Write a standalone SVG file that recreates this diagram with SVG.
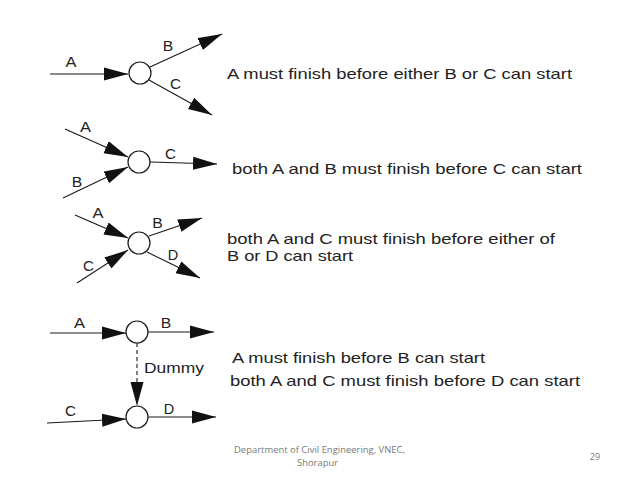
<svg xmlns="http://www.w3.org/2000/svg" width="638" height="478" viewBox="0 0 638 478">
<style>
.ln{stroke:#1a1a1a;stroke-width:1.1;fill:none;marker-end:url(#ah)}
.dash{stroke-dasharray:4 3}
.nd{fill:#fff;stroke:#1a1a1a;stroke-width:1.2}
.lb{font-family:"Liberation Sans",Arial,sans-serif;font-size:14px;fill:#222;text-anchor:middle}
.tx{font-family:"Liberation Sans",Arial,sans-serif;font-size:14.5px;fill:#222}
.ft{font-family:"Open Sans","Liberation Sans",sans-serif;font-size:9px;fill:#7a7a7a;text-anchor:middle}
</style>
<defs>
<marker id="ah" markerUnits="userSpaceOnUse" markerWidth="25" markerHeight="14" refX="24" refY="7" orient="auto">
<path d="M0,0.5 L24,7 L0,13.5 z" fill="#111"/>
</marker>
</defs>
<rect width="638" height="478" fill="#fff"/>
<g id="connectors">
<line class="ln" x1="50" y1="74" x2="128" y2="74"/>
<line class="ln" x1="150" y1="67" x2="222" y2="34"/>
<line class="ln" x1="149" y1="80" x2="212" y2="115"/>
<line class="ln" x1="65" y1="129" x2="128" y2="157"/>
<line class="ln" x1="63" y1="198" x2="128" y2="167"/>
<line class="ln" x1="150" y1="162" x2="217" y2="164"/>
<line class="ln" x1="75" y1="215" x2="128" y2="238"/>
<line class="ln" x1="77" y1="283" x2="128" y2="250"/>
<line class="ln" x1="149" y1="236" x2="202" y2="218"/>
<line class="ln" x1="147" y1="252" x2="200" y2="278"/>
<line class="ln" x1="50" y1="333" x2="126" y2="333"/>
<line class="ln" x1="148" y1="332" x2="214" y2="332"/>
<line class="ln dash" x1="137" y1="343" x2="137" y2="406"/>
<line class="ln" x1="47" y1="423" x2="126" y2="419"/>
<line class="ln" x1="148" y1="417" x2="216" y2="417"/>
</g>
<g id="node1"><circle class="nd" cx="140" cy="73" r="11"/></g>
<g id="node2"><circle class="nd" cx="139" cy="162" r="11"/></g>
<g id="node3"><circle class="nd" cx="139" cy="243" r="11"/></g>
<g id="node4"><circle class="nd" cx="137" cy="332" r="11"/></g>
<g id="node5"><circle class="nd" cx="137" cy="417" r="11"/></g>
<g id="labels">
<text class="lb" x="71" y="67" textLength="11" lengthAdjust="spacingAndGlyphs">A</text>
<text class="lb" x="168" y="51" textLength="10.5" lengthAdjust="spacingAndGlyphs">B</text>
<text class="lb" x="175.5" y="89" textLength="11" lengthAdjust="spacingAndGlyphs">C</text>
<text class="lb" x="85.5" y="132" textLength="11" lengthAdjust="spacingAndGlyphs">A</text>
<text class="lb" x="77" y="187" textLength="10.5" lengthAdjust="spacingAndGlyphs">B</text>
<text class="lb" x="170.5" y="159" textLength="11" lengthAdjust="spacingAndGlyphs">C</text>
<text class="lb" x="98" y="218" textLength="11" lengthAdjust="spacingAndGlyphs">A</text>
<text class="lb" x="157.5" y="228" textLength="10.5" lengthAdjust="spacingAndGlyphs">B</text>
<text class="lb" x="88.5" y="271" textLength="11" lengthAdjust="spacingAndGlyphs">C</text>
<text class="lb" x="173" y="260" textLength="10.5" lengthAdjust="spacingAndGlyphs">D</text>
<text class="lb" x="79.5" y="328" textLength="11" lengthAdjust="spacingAndGlyphs">A</text>
<text class="lb" x="166" y="328" textLength="10.5" lengthAdjust="spacingAndGlyphs">B</text>
<text class="lb" x="70.5" y="416" textLength="11" lengthAdjust="spacingAndGlyphs">C</text>
<text class="lb" x="169" y="414" textLength="10.5" lengthAdjust="spacingAndGlyphs">D</text>
<text class="tx" x="144" y="373" textLength="60" lengthAdjust="spacingAndGlyphs">Dummy</text>
</g>
<g id="descriptions">
<text class="tx" x="227" y="79" textLength="345" lengthAdjust="spacingAndGlyphs">A must finish before either B or C can start</text>
<text class="tx" x="232" y="174" textLength="350" lengthAdjust="spacingAndGlyphs">both A and B must finish before C can start</text>
<text class="tx" x="227" y="244" textLength="328" lengthAdjust="spacingAndGlyphs">both A and C must finish before either of</text>
<text class="tx" x="227" y="261" textLength="126" lengthAdjust="spacingAndGlyphs">B or D can start</text>
<text class="tx" x="232" y="363" textLength="253" lengthAdjust="spacingAndGlyphs">A must finish before B can start</text>
<text class="tx" x="230" y="386" textLength="350" lengthAdjust="spacingAndGlyphs">both A and C must finish before D can start</text>
</g>
<g id="footer">
<text class="ft" x="319.5" y="453" textLength="171" lengthAdjust="spacingAndGlyphs">Department of Civil Engineering, VNEC,</text>
<text class="ft" x="317.5" y="466" textLength="41" lengthAdjust="spacingAndGlyphs">Shorapur</text>
<text class="ft" x="595" y="460">29</text>
</g>
</svg>
